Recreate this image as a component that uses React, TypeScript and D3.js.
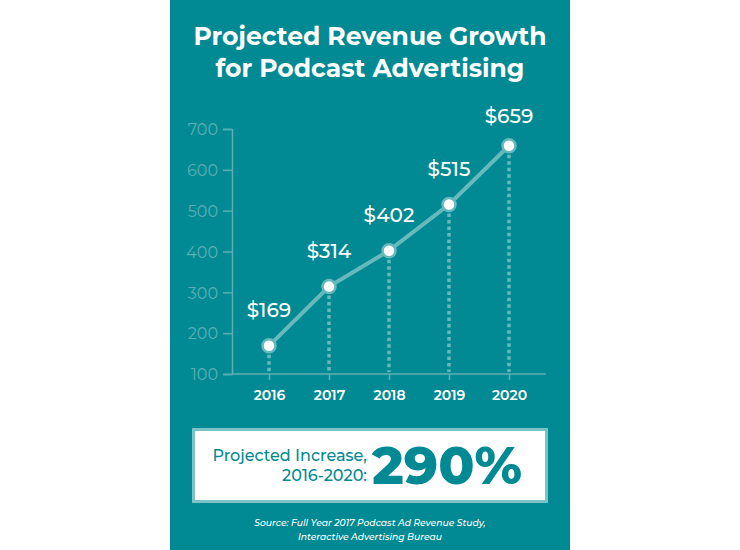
import React, { useEffect, useRef } from 'react';
import * as d3 from 'd3';

const years = ['2016', '2017', '2018', '2019', '2020'];
const revenue = [169, 314, 402, 515, 659];
const yTicks = [100, 200, 300, 400, 500, 600, 700];

const TEAL = '#028a94';
const LIGHT = '#68b9bd';
const AXIS = '#5cafb4';
const FONT = 'Montserrat, "Open Sans", Lato, sans-serif';

const App: React.FC = () => {
  const svgRef = useRef<SVGSVGElement>(null);

  useEffect(() => {
    if (!svgRef.current) return;
    const svg = d3.select(svgRef.current);
    svg.selectAll('*').remove();

    const width = 740;
    const height = 550;

    svg.attr('width', width).attr('height', height);

    // panel
    svg.append('rect')
      .attr('x', 170).attr('y', 0)
      .attr('width', 400).attr('height', height)
      .attr('fill', TEAL);

    // title
    const title = svg.append('text')
      .attr('text-anchor', 'middle')
      .style('font-family', FONT)
      .style('font-weight', 700)
      .style('font-size', '25px')
      .attr('fill', '#ffffff');
    title.append('tspan').attr('x', 370).attr('y', 45).text('Projected Revenue Growth');
    title.append('tspan').attr('x', 370).attr('y', 77).text('for Podcast Advertising');

    // scales
    const x = d3.scalePoint<string>()
      .domain(years)
      .range([269, 509]);

    const y = d3.scaleLinear()
      .domain([100, 700])
      .range([374, 129]);

    const g = svg.append('g');

    // y axis
    const yAxis = g.append('g')
      .attr('transform', 'translate(232,0)')
      .call(d3.axisLeft(y).tickValues(yTicks).tickSize(9).tickPadding(5));
    yAxis.select('.domain').attr('stroke', AXIS).attr('stroke-width', 1.5);
    yAxis.selectAll('.tick line').attr('stroke', AXIS).attr('stroke-width', 1.5);
    yAxis.selectAll('.tick text')
      .attr('fill', AXIS)
      .style('font-family', FONT)
      .style('font-size', '16px')
      .attr('dy', '0.36em');

    // x axis
    const xAxis = g.append('g')
      .attr('transform', 'translate(0,374)')
      .call(d3.axisBottom(x).tickSize(6).tickPadding(10));
    xAxis.select('.domain')
      .attr('d', 'M232,0H546')
      .attr('stroke', AXIS).attr('stroke-width', 1.5);
    xAxis.selectAll('.tick line').attr('stroke', AXIS).attr('stroke-width', 1.5);
    xAxis.selectAll('.tick text')
      .attr('fill', '#ffffff')
      .style('font-family', FONT)
      .style('font-weight', 600)
      .style('font-size', '14px');

    const data = years.map((yr, i) => ({ yr, v: revenue[i] }));
    const maxV = d3.max(revenue) as number;

    // dotted drop lines
    g.selectAll('.drop')
      .data(data)
      .enter()
      .append('line')
      .attr('x1', d => x(d.yr) as number)
      .attr('x2', d => x(d.yr) as number)
      .attr('y1', d => y(d.v) + 9)
      .attr('y2', y(100) - 2)
      .attr('stroke', LIGHT)
      .attr('stroke-width', 3.5)
      .attr('stroke-dasharray', '3.5,3');

    // line
    const line = d3.line<{ yr: string; v: number }>()
      .x(d => x(d.yr) as number)
      .y(d => y(d.v));

    g.append('path')
      .datum(data)
      .attr('d', line)
      .attr('fill', 'none')
      .attr('stroke', LIGHT)
      .attr('stroke-width', 4);

    g.selectAll('.pt')
      .data(data)
      .enter()
      .append('circle')
      .attr('cx', d => x(d.yr) as number)
      .attr('cy', d => y(d.v))
      .attr('r', 6.5)
      .attr('fill', '#ffffff')
      .attr('stroke', LIGHT)
      .attr('stroke-width', 2.5);

    // value labels (top one sits a bit closer, under the title)
    g.selectAll('.lbl')
      .data(data)
      .enter()
      .append('text')
      .attr('x', d => x(d.yr) as number)
      .attr('y', d => y(d.v) - (d.v === maxV ? 23 : 29))
      .attr('text-anchor', 'middle')
      .attr('fill', '#ffffff')
      .style('font-family', FONT)
      .style('font-weight', 500)
      .style('font-size', '20px')
      .text(d => `$${d.v}`);

    // increase box
    svg.append('rect')
      .attr('x', 193.5).attr('y', 429.5)
      .attr('width', 353).attr('height', 72)
      .attr('fill', '#ffffff')
      .attr('stroke', '#7cc3c7')
      .attr('stroke-width', 3);

    const inc = svg.append('text')
      .attr('text-anchor', 'end')
      .attr('fill', TEAL)
      .style('font-family', FONT)
      .style('font-weight', 500)
      .style('font-size', '16px');
    inc.append('tspan').attr('x', 367).attr('y', 461).text('Projected Increase,');
    inc.append('tspan').attr('x', 367).attr('y', 481).text('2016-2020:');

    svg.append('text')
      .attr('x', 372).attr('y', 484)
      .attr('fill', TEAL)
      .style('font-family', FONT)
      .style('font-weight', 800)
      .style('font-size', '53px')
      .text('290%');

    // source
    const src = svg.append('text')
      .attr('text-anchor', 'middle')
      .attr('fill', '#ffffff')
      .style('font-family', FONT)
      .style('font-style', 'italic')
      .style('font-weight', 500)
      .style('font-size', '9.2px');
    src.append('tspan').attr('x', 370).attr('y', 526).text('Source: Full Year 2017 Podcast Ad Revenue Study,');
    src.append('tspan').attr('x', 370).attr('y', 540).text('Interactive Advertising Bureau');
  }, []);

  return (
    <div style={{ position: 'absolute', left: 0, top: 0 }}>
      <svg ref={svgRef} style={{ display: 'block' }}></svg>
    </div>
  );
};

export default App;
